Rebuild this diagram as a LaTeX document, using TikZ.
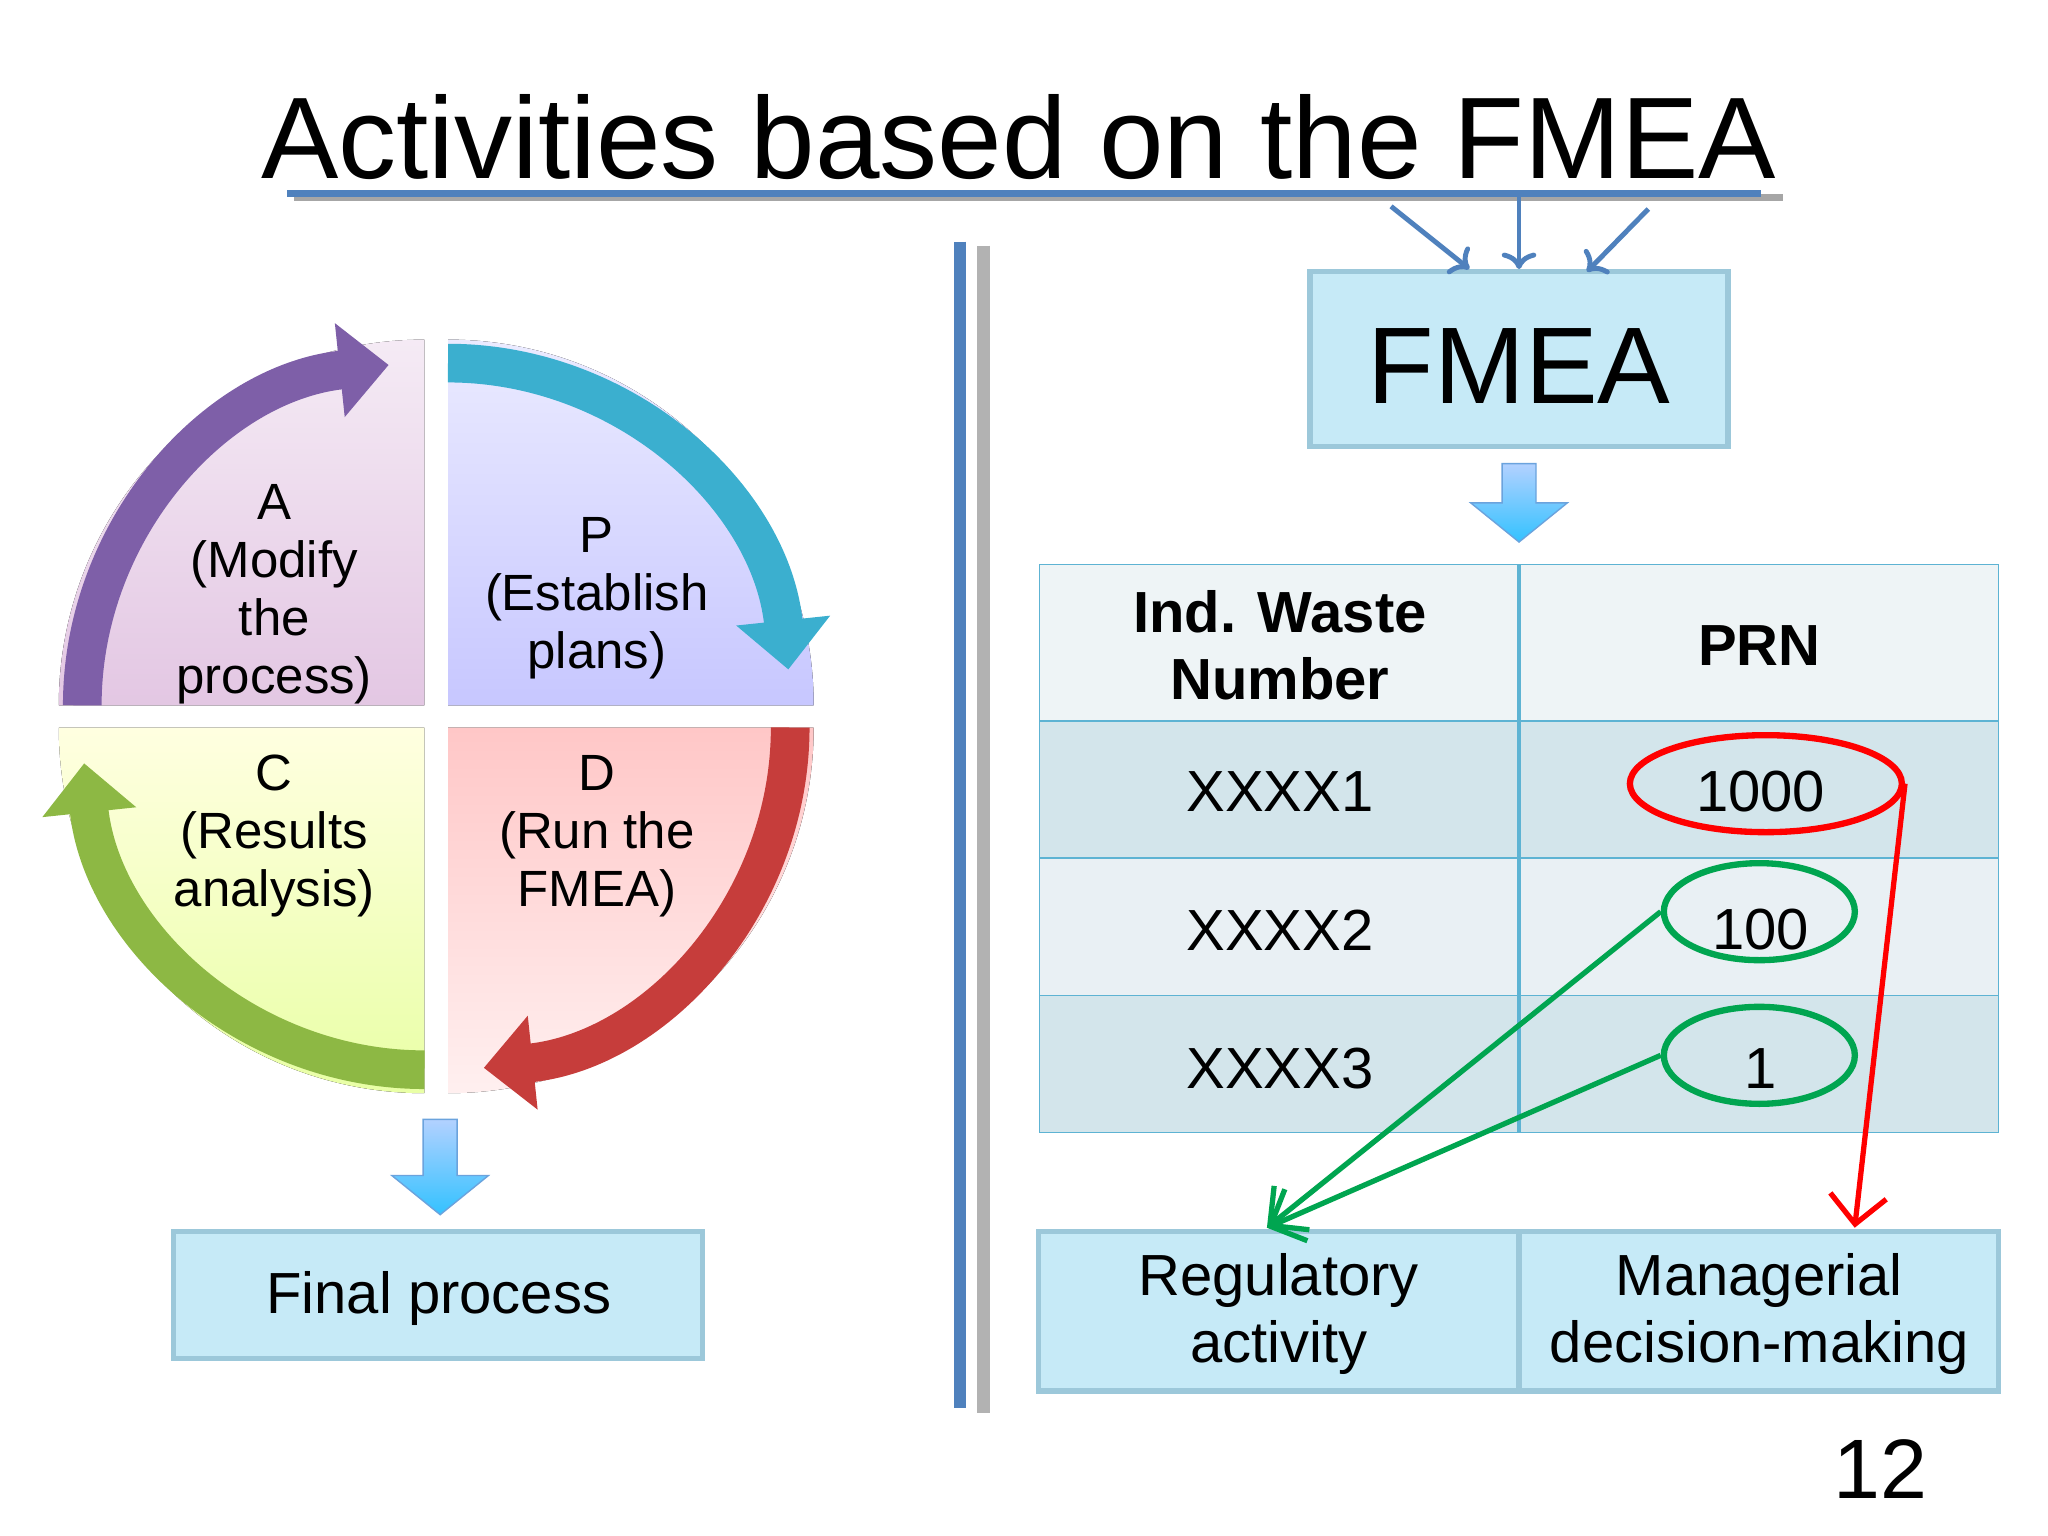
\documentclass[tikz,border=0pt]{standalone}
\usepackage{fontspec}
\setmainfont{Liberation Sans}
\usetikzlibrary{arrows.meta,shapes.geometric}
\definecolor{boxfill}{HTML}{C6EAF7}
\definecolor{boxline}{HTML}{9CC8DA}
\definecolor{tline}{HTML}{5DB3D3}
\definecolor{hdr}{HTML}{EEF4F6}
\definecolor{rowa}{HTML}{D3E5EB}
\definecolor{rowb}{HTML}{E9F0F4}
\definecolor{ublue}{HTML}{4F81BD}
\definecolor{gok}{HTML}{00A550}
\definecolor{ca}{HTML}{7E5FA8}
\definecolor{cp}{HTML}{3BAFCF}
\definecolor{cd}{HTML}{C63D3B}
\definecolor{cc}{HTML}{8DB844}
\begin{document}
\begin{tikzpicture}[x=0.01306cm,y=-0.01306cm,
  box/.style={draw=boxline,fill=boxfill,line width=1.5pt,inner sep=0pt},
  txt/.style={font=\fontsize{16.5}{19}\selectfont,align=center},
  pd/.style={font=\fontsize{14.5}{16.5}\selectfont,align=center},
  band/.style={line width=11pt,-{Triangle[width=26pt,length=14pt]}},
  thin/.style={->,line width=1.4pt,ublue}]
\useasboundingbox (0,0) rectangle (1568,1176);
% title
\node[font=\fontsize{33}{38}\selectfont] (title) at (780,105) {Activities based on the FMEA};
\draw[gray!70,line width=2pt] (225,151) -- (1365,151);
\draw[ublue,line width=2pt] (220,148) -- (1348,148);
% separators
\draw[ublue,line width=3.5pt] (735,185) -- (735,1078);
\draw[gray!60,line width=3.5pt] (753,188) -- (753,1082);
% FMEA box
\draw[box] (1003,208) rectangle (1323,342);
\node[font=\fontsize{31}{36}\selectfont] (fmea) at (1163,280) {FMEA};
\coordinate (f1) at (1125,206); \coordinate (f2) at (1163,206); \coordinate (f3) at (1215,208);
\coordinate (s1) at (1065,158); \coordinate (s2) at (1163,150); \coordinate (s3) at (1262,160);
\draw[thin] (s1) -- (f1); \draw[thin] (s2) -- (f2); \draw[thin] (s3) -- (f3);
% block arrows
\shade[top color=cyan!40!blue!30,bottom color=cyan!70!blue!80,draw=cyan!60!blue!60]
  (1150,355) -- (1176,355) -- (1176,385) -- (1200,385) -- (1163,415) -- (1126,385) -- (1150,385) -- cycle;
\shade[top color=cyan!40!blue!30,bottom color=cyan!70!blue!80,draw=cyan!60!blue!60]
  (324,857) -- (350,857) -- (350,900) -- (374,900) -- (337,930) -- (300,900) -- (324,900) -- cycle;
% table
\filldraw[draw=tline,fill=hdr] (796,432) rectangle (1530,552);
\filldraw[draw=tline,fill=rowa] (796,552) rectangle (1530,657);
\filldraw[draw=tline,fill=rowb] (796,657) rectangle (1530,762);
\filldraw[draw=tline,fill=rowa] (796,762) rectangle (1530,867);
\draw[tline,line width=1pt] (1163,432) -- (1163,867);
\node[align=center,font=\bfseries\fontsize{16.5}{19}\selectfont] (h1) at (980,494) {Ind. Waste\\Number};
\node[align=center,font=\bfseries\fontsize{16.5}{19}\selectfont] (h2) at (1347,494) {PRN};
\node[txt] (a1) at (980,606) {XXXX1};
\node[txt] (a2) at (980,712) {XXXX2};
\node[txt] (a3) at (980,818) {XXXX3};
\node[txt] (b1) at (1348,606) {1000};
\node[txt] (b2) at (1348,712) {100};
\node[txt] (b3) at (1348,818) {1};
\node[ellipse,draw=red,line width=1.8pt,inner sep=0pt,minimum width=2.72cm,minimum height=0.97cm] (e1) at (1352,600) {};
\node[ellipse,draw=gok,line width=1.8pt,inner sep=0pt,minimum width=1.91cm,minimum height=0.97cm] (e2) at (1347,698) {};
\node[ellipse,draw=gok,line width=1.8pt,inner sep=0pt,minimum width=1.91cm,minimum height=0.97cm] (e3) at (1347,808) {};
% bottom boxes
\draw[box] (795,943) rectangle (1163,1065);
\draw[box] (1163,943) rectangle (1530,1065);
\node[txt] (reg) at (979,1006) {Regulatory\\activity};
\node[txt] (man) at (1347,1006) {Managerial\\decision-making};
\coordinate (rt) at (970,940); \coordinate (mt) at (1420,940);
\draw[gok,line width=1.5pt,-{Straight Barb[length=8pt]}] (e2.west) -- (rt);
\draw[gok,line width=1.5pt,-{Straight Barb[length=8pt]}] (e3.west) -- (rt);
\draw[red,line width=1.5pt,-{Straight Barb[length=8pt]}] (e1.east) -- (mt);
% final process
\draw[box] (133,943) rectangle (538,1040);
\node[txt] (fin) at (336,994) {Final process};
\node[font=\fontsize{24}{28}\selectfont] (pg) at (1440,1125) {12};
% PDCA quadrants
\fill[top color=violet!8,bottom color=violet!22] (325,540) -- (45,540) arc (180:270:280) -- cycle;
\fill[top color=blue!8,bottom color=blue!22] (343,540) -- (343,260) arc (270:360:280) -- cycle;
\fill[top color=red!22,bottom color=red!6] (343,557) -- (623,557) arc (0:90:280) -- cycle;
\fill[top color=yellow!12,bottom color=green!25!yellow!35] (325,557) -- (325,837) arc (90:180:280) -- cycle;
\draw[band,ca] (63,540) arc (180:264:262);
\draw[band,cp] (343,278) arc (270:354:262);
\draw[band,cd] (605,557) arc (0:84:262);
\draw[band,cc] (325,819) arc (90:174:262);
\node[pd] (qa) at (210,455) {A\\(Modify\\the\\process)};
\node[pd] (qp) at (457,458) {P\\(Establish\\plans)};
\node[pd] (qc) at (210,640) {C\\(Results\\analysis)};
\node[pd] (qd) at (457,640) {D\\(Run the\\FMEA)};
\end{tikzpicture}
\end{document}
